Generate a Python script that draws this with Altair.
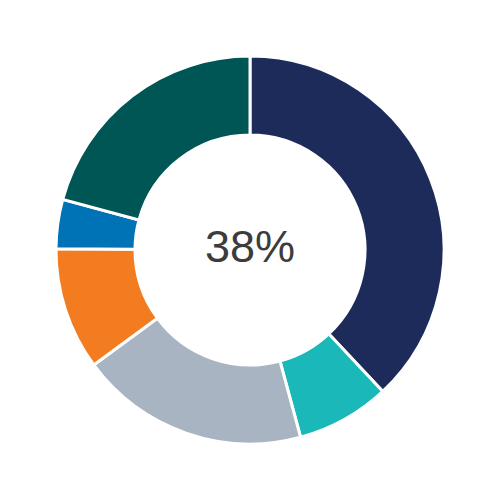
import altair as alt
import pandas as pd

categories = ["A", "B", "C", "D", "E", "F"]
values = [38.0, 7.8, 19.1, 10.2, 4.1, 20.8]
colors = ["#1c2b5a", "#1ab8b8", "#a9b4c2", "#f47c20", "#0073b7", "#005555"]
center_label = "38%"

df = pd.DataFrame({"category": categories, "value": values, "order": list(range(len(categories)))})

arcs = alt.Chart(df).mark_arc(outerRadius=194, innerRadius=115, stroke="white", strokeWidth=3).encode(
    theta=alt.Theta("value:Q", stack=True),
    color=alt.Color("category:N", scale=alt.Scale(domain=categories, range=colors), legend=None),
    order=alt.Order("order:Q"),
)

text = alt.Chart(pd.DataFrame({"label": [center_label]})).mark_text(
    fontSize=45, font="Liberation Sans", color="#3c3c3c", baseline="middle", align="center"
).encode(
    text="label:N",
    x=alt.value(242),
    y=alt.value(240),
)

chart = alt.layer(arcs, text).properties(width=484, height=484, padding=0).configure_view(stroke=None)

chart.save("out.html", embed_options={"renderer": "svg", "actions": False})
